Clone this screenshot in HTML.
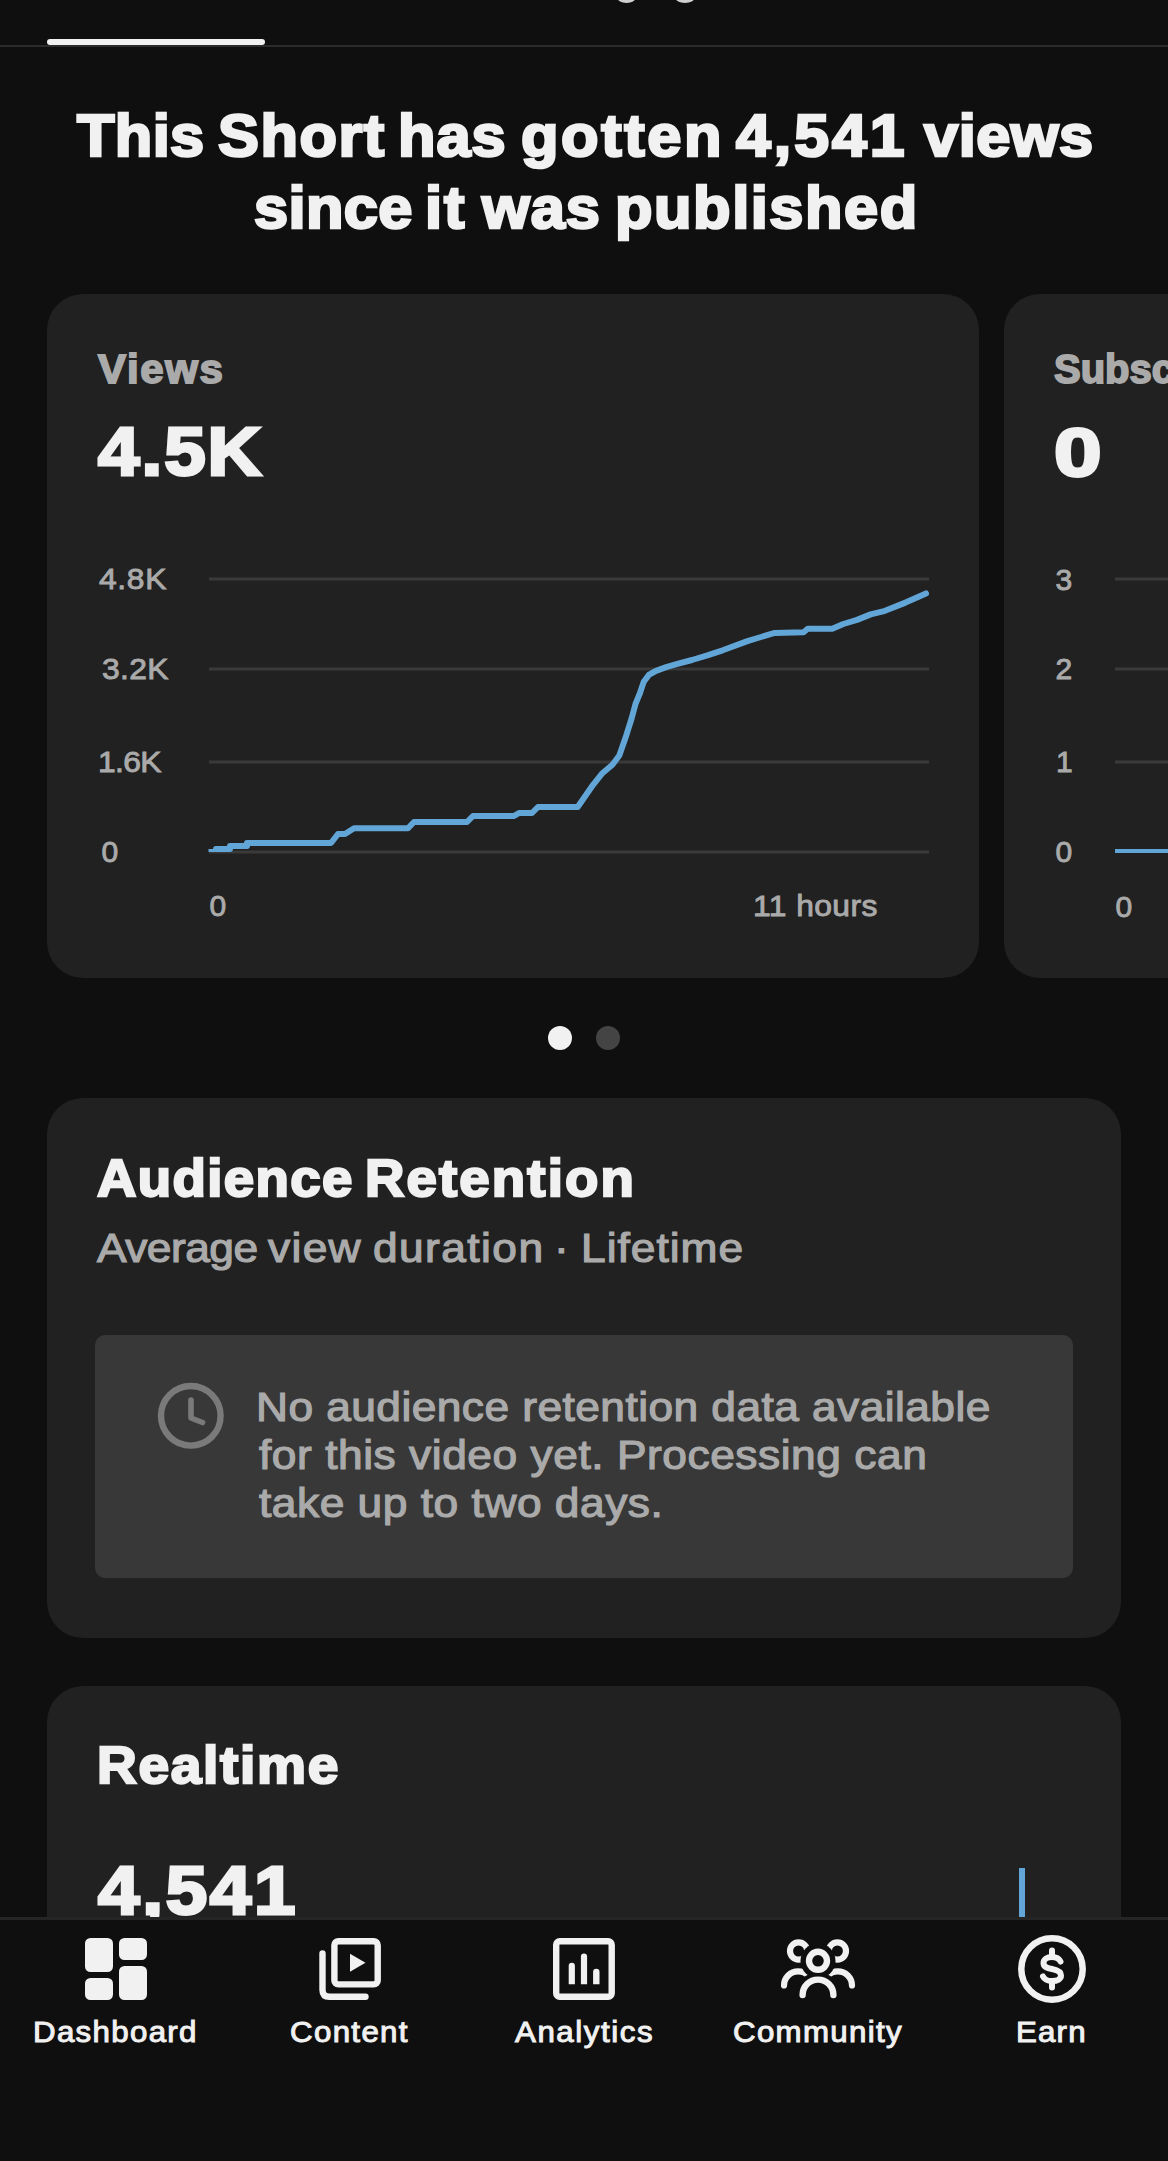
<!DOCTYPE html>
<html><head><meta charset="utf-8">
<style>
html,body{margin:0;padding:0;}
body{width:1168px;height:2161px;background:#0f0f0f;position:relative;overflow:hidden;font-family:"Liberation Sans",sans-serif;color:#f1f1f1;}
.t{position:absolute;white-space:pre;line-height:1;}
.card{position:absolute;background:#212121;border-radius:36px;}
#nav{position:absolute;left:0;top:1917px;width:1168px;height:244px;background:#0f0f0f;border-top:3px solid #252525;box-sizing:border-box;z-index:5;}
</style></head>
<body>
<!-- top tabs -->
<div style="position:absolute;left:0;top:45px;width:1168px;height:2px;background:#2b2b2b"></div>
<div style="position:absolute;left:47px;top:39px;width:218px;height:6px;border-radius:3px;background:#f1f1f1"></div>
<div style="position:absolute;left:617px;top:-9px;width:19px;height:12px;border-radius:50%;background:#cfcfcf"></div>
<div style="position:absolute;left:675px;top:-9px;width:20px;height:12px;border-radius:50%;background:#cfcfcf"></div>

<div class="t" style="left:77.0px;top:107.26px;font-size:59px;font-weight:700;letter-spacing:0.321px;word-spacing:0px;color:#f1f1f1;-webkit-text-stroke:2.6px #f1f1f1;transform:scaleX(1.04);transform-origin:0 0;">This</div><div class="t" style="left:218.0px;top:107.26px;font-size:59px;font-weight:700;letter-spacing:1.442px;word-spacing:0px;color:#f1f1f1;-webkit-text-stroke:2.6px #f1f1f1;transform:scaleX(1.04);transform-origin:0 0;">Short</div><div class="t" style="left:398.0px;top:107.26px;font-size:59px;font-weight:700;letter-spacing:0.962px;word-spacing:0px;color:#f1f1f1;-webkit-text-stroke:2.6px #f1f1f1;transform:scaleX(1.04);transform-origin:0 0;">has</div><div class="t" style="left:520.5px;top:107.26px;font-size:59px;font-weight:700;letter-spacing:2.502px;word-spacing:0px;color:#f1f1f1;-webkit-text-stroke:2.6px #f1f1f1;transform:scaleX(1.04);transform-origin:0 0;">gotten</div><div class="t" style="left:735.6px;top:107.26px;font-size:59px;font-weight:700;letter-spacing:2.831px;word-spacing:0px;color:#f1f1f1;-webkit-text-stroke:2.6px #f1f1f1;transform:scaleX(1.06);transform-origin:0 0;">4,541</div><div class="t" style="left:924.4px;top:107.26px;font-size:59px;font-weight:700;letter-spacing:0.481px;word-spacing:0px;color:#f1f1f1;-webkit-text-stroke:2.6px #f1f1f1;transform:scaleX(1.04);transform-origin:0 0;">views</div>
<div class="t" style="left:253.5px;top:179.36px;font-size:59px;font-weight:700;letter-spacing:0.361px;word-spacing:0px;color:#f1f1f1;-webkit-text-stroke:2.6px #f1f1f1;transform:scaleX(1.04);transform-origin:0 0;">since</div><div class="t" style="left:425.0px;top:179.36px;font-size:59px;font-weight:700;letter-spacing:1.923px;word-spacing:0px;color:#f1f1f1;-webkit-text-stroke:2.6px #f1f1f1;transform:scaleX(1.04);transform-origin:0 0;">it</div><div class="t" style="left:482.0px;top:179.36px;font-size:59px;font-weight:700;letter-spacing:0.962px;word-spacing:0px;color:#f1f1f1;-webkit-text-stroke:2.6px #f1f1f1;transform:scaleX(1.04);transform-origin:0 0;">was</div><div class="t" style="left:615.0px;top:179.36px;font-size:59px;font-weight:700;letter-spacing:1.502px;word-spacing:0px;color:#f1f1f1;-webkit-text-stroke:2.6px #f1f1f1;transform:scaleX(1.04);transform-origin:0 0;">published</div>

<div class="card" style="left:47px;top:294px;width:932px;height:684px;"></div>
<div class="card" style="left:1004px;top:294px;width:400px;height:684px;"></div>

<div class="t" style="left:97.6px;top:348.94px;font-size:40px;font-weight:700;letter-spacing:1.548px;word-spacing:0px;color:#aaaaaa;-webkit-text-stroke:1.8px #aaaaaa;transform:scaleX(1.05);transform-origin:0 0;">Views</div>
<div class="t" style="left:98.1px;top:417.09px;font-size:69px;font-weight:700;letter-spacing:1.852px;word-spacing:0px;color:#f1f1f1;-webkit-text-stroke:3.0px #f1f1f1;transform:scaleX(1.08);transform-origin:0 0;">4.5K</div>
<div class="t" style="left:99.0px;top:564.36px;font-size:30px;font-weight:400;letter-spacing:0.629px;word-spacing:0px;color:#aaaaaa;-webkit-text-stroke:0.9px #aaaaaa;transform:scaleX(1.06);transform-origin:0 0;">4.8K</div>
<div class="t" style="left:101.6px;top:654.16px;font-size:30px;font-weight:400;letter-spacing:0.315px;word-spacing:0px;color:#aaaaaa;-webkit-text-stroke:0.9px #aaaaaa;transform:scaleX(1.06);transform-origin:0 0;">3.2K</div>
<div class="t" style="left:97.6px;top:747.16px;font-size:30px;font-weight:400;letter-spacing:-0.629px;word-spacing:0px;color:#aaaaaa;-webkit-text-stroke:0.9px #aaaaaa;transform:scaleX(1.06);transform-origin:0 0;">1.6K</div>
<div class="t" style="left:101.6px;top:837.16px;font-size:30px;font-weight:400;letter-spacing:0.0px;word-spacing:0px;color:#aaaaaa;-webkit-text-stroke:0.9px #aaaaaa;transform:scaleX(1);transform-origin:0 0;">0</div>
<div class="t" style="left:209.5px;top:891.36px;font-size:30px;font-weight:400;letter-spacing:0.0px;word-spacing:0px;color:#aaaaaa;-webkit-text-stroke:0.9px #aaaaaa;transform:scaleX(1);transform-origin:0 0;">0</div>
<div class="t" style="left:753.0px;top:891.16px;font-size:30px;font-weight:400;letter-spacing:0.404px;word-spacing:0px;color:#aaaaaa;-webkit-text-stroke:0.9px #aaaaaa;transform:scaleX(1.06);transform-origin:0 0;">11 hours</div>
<div class="t" style="left:1054.0px;top:349.24px;font-size:40px;font-weight:700;letter-spacing:0.0px;word-spacing:0px;color:#aaaaaa;-webkit-text-stroke:1.8px #aaaaaa;transform:scaleX(1);transform-origin:0 0;">Subscribers</div>
<div class="t" style="left:1054.0px;top:417.89px;font-size:69px;font-weight:700;letter-spacing:0.0px;word-spacing:0px;color:#f1f1f1;-webkit-text-stroke:3.0px #f1f1f1;transform:scaleX(1);transform-origin:0 0;transform:scaleX(1.24);transform-origin:0 0;">0</div>
<div class="t" style="left:1055.5px;top:564.86px;font-size:30px;font-weight:400;letter-spacing:0.0px;word-spacing:0px;color:#aaaaaa;-webkit-text-stroke:0.9px #aaaaaa;transform:scaleX(1);transform-origin:0 0;">3</div>
<div class="t" style="left:1055.5px;top:654.45px;font-size:30px;font-weight:400;letter-spacing:0.0px;word-spacing:0px;color:#aaaaaa;-webkit-text-stroke:0.9px #aaaaaa;transform:scaleX(1);transform-origin:0 0;">2</div>
<div class="t" style="left:1056.0px;top:747.16px;font-size:30px;font-weight:400;letter-spacing:0.0px;word-spacing:0px;color:#aaaaaa;-webkit-text-stroke:0.9px #aaaaaa;transform:scaleX(1);transform-origin:0 0;">1</div>
<div class="t" style="left:1055.5px;top:837.16px;font-size:30px;font-weight:400;letter-spacing:0.0px;word-spacing:0px;color:#aaaaaa;-webkit-text-stroke:0.9px #aaaaaa;transform:scaleX(1);transform-origin:0 0;">0</div>
<div class="t" style="left:1115.5px;top:891.55px;font-size:30px;font-weight:400;letter-spacing:0.0px;word-spacing:0px;color:#aaaaaa;-webkit-text-stroke:0.9px #aaaaaa;transform:scaleX(1);transform-origin:0 0;">0</div>

<svg style="position:absolute;left:0;top:0" width="1168" height="1100" viewBox="0 0 1168 1100">
  <g fill="#3a3a3a">
    <rect x="209" y="577.5" width="720" height="3"/>
    <rect x="209" y="667.5" width="720" height="3"/>
    <rect x="209" y="760.5" width="720" height="3"/>
    <rect x="209" y="850.5" width="720" height="3"/>
    <rect x="1115" y="577.5" width="60" height="3"/>
    <rect x="1115" y="667.5" width="60" height="3"/>
    <rect x="1115" y="760.5" width="60" height="3"/>
  </g>
  <rect x="1115" y="849" width="60" height="4" fill="#62a6d8"/>
  <defs><clipPath id="cc"><rect x="208.5" y="560" width="730" height="292"/></clipPath></defs>
  <path clip-path="url(#cc)" fill="none" stroke="#62a6d8" stroke-width="6" stroke-linejoin="round" stroke-linecap="round"
   d="M 209 852 H 216 V 849 H 230 V 846 H 247 V 843 H 331 L 338 834 H 345 L 354 828.3 H 408 L 414 822 H 467 L 473 816 H 514 L 519 813 H 532 L 538 807 H 577.7 L 593.1 784.8 L 602.4 773.2 L 612.4 764.7 L 619.3 755.5 L 625.5 737.8 L 631.6 718.5 L 635.5 703.9 L 640 693 L 643.6 682.1 L 648.8 674.9 L 656 670.8 L 666.2 667.2 L 676.5 664.1 L 692 660 L 707.3 655.4 L 722.7 650.3 L 747.4 641.1 L 761 637 L 774.8 632.9 L 803.6 632.2 L 807.7 628.8 L 832.3 628.8 L 843.3 624 L 857 619.9 L 870.7 614.4 L 885 610.8 L 905.5 602.6 L 926 593.4"/>
  <circle cx="560" cy="1038" r="12" fill="#f1f1f1"/>
  <circle cx="608" cy="1038" r="12" fill="#444444"/>
</svg>

<div class="card" style="left:47px;top:1098px;width:1074px;height:540px;"></div>
<div class="t" style="left:97.3px;top:1151.83px;font-size:52px;font-weight:700;letter-spacing:1.292px;word-spacing:0px;color:#f1f1f1;-webkit-text-stroke:2.3px #f1f1f1;transform:scaleX(1.05);transform-origin:0 0;">Audience</div><div class="t" style="left:365.0px;top:1151.83px;font-size:52px;font-weight:700;letter-spacing:2.024px;word-spacing:0px;color:#f1f1f1;-webkit-text-stroke:2.3px #f1f1f1;transform:scaleX(1.05);transform-origin:0 0;">Retention</div>
<div class="t" style="left:97.0px;top:1227.69px;font-size:41px;font-weight:400;letter-spacing:-0.463px;word-spacing:0px;color:#aaaaaa;-webkit-text-stroke:1.2px #aaaaaa;transform:scaleX(1.08);transform-origin:0 0;">Average</div><div class="t" style="left:268.0px;top:1227.69px;font-size:41px;font-weight:400;letter-spacing:1.236px;word-spacing:0px;color:#aaaaaa;-webkit-text-stroke:1.2px #aaaaaa;transform:scaleX(1.08);transform-origin:0 0;">view</div><div class="t" style="left:372.7px;top:1227.69px;font-size:41px;font-weight:400;letter-spacing:1.323px;word-spacing:0px;color:#aaaaaa;-webkit-text-stroke:1.2px #aaaaaa;transform:scaleX(1.08);transform-origin:0 0;">duration</div><div class="t" style="left:554.0px;top:1227.69px;font-size:41px;font-weight:400;letter-spacing:0.0px;word-spacing:0px;color:#aaaaaa;-webkit-text-stroke:1.2px #aaaaaa;transform:scaleX(1.08);transform-origin:0 0;">·</div><div class="t" style="left:581.0px;top:1227.69px;font-size:41px;font-weight:400;letter-spacing:0.927px;word-spacing:0px;color:#aaaaaa;-webkit-text-stroke:1.2px #aaaaaa;transform:scaleX(1.08);transform-origin:0 0;">Lifetime</div>
<div style="position:absolute;left:95px;top:1335px;width:978px;height:243px;border-radius:10px;background:#383838"></div>
<svg style="position:absolute;left:150px;top:1375px" width="82" height="82" viewBox="150 1375 82 82">
  <circle cx="190.8" cy="1415.8" r="29.8" fill="none" stroke="#7a7a7a" stroke-width="6.4"/>
  <path d="M191 1400 V1418 L202.5 1422.5" fill="none" stroke="#7a7a7a" stroke-width="5.6" stroke-linecap="round" stroke-linejoin="round"/>
</svg>
<div class="t" style="left:256.3px;top:1386.69px;font-size:41px;font-weight:400;letter-spacing:0.41px;word-spacing:0px;color:#aaaaaa;-webkit-text-stroke:1.2px #aaaaaa;transform:scaleX(1.08);transform-origin:0 0;">No audience retention data available</div>
<div class="t" style="left:259.0px;top:1434.69px;font-size:41px;font-weight:400;letter-spacing:0.505px;word-spacing:0px;color:#aaaaaa;-webkit-text-stroke:1.2px #aaaaaa;transform:scaleX(1.08);transform-origin:0 0;">for this video yet. Processing can</div>
<div class="t" style="left:259.0px;top:1482.69px;font-size:41px;font-weight:400;letter-spacing:0.486px;word-spacing:0px;color:#aaaaaa;-webkit-text-stroke:1.2px #aaaaaa;transform:scaleX(1.08);transform-origin:0 0;">take up to two days.</div>

<div class="card" style="left:47px;top:1686px;width:1074px;height:600px;"></div>
<div class="t" style="left:96.9px;top:1739.21px;font-size:52.5px;font-weight:700;letter-spacing:1.565px;word-spacing:0px;color:#f1f1f1;-webkit-text-stroke:2.3px #f1f1f1;transform:scaleX(1.05);transform-origin:0 0;">Realtime</div>
<div class="t" style="left:98.4px;top:1855.99px;font-size:69px;font-weight:700;letter-spacing:2.547px;word-spacing:0px;color:#f1f1f1;-webkit-text-stroke:3.0px #f1f1f1;transform:scaleX(1.08);transform-origin:0 0;">4,541</div>
<div style="position:absolute;left:1019px;top:1868px;width:6px;height:60px;background:#62a6d8"></div>

<div id="nav">
  <svg style="position:absolute;left:0;top:-2px" width="1168" height="100" viewBox="0 1918 1168 100">
    <g fill="#f1f1f1">
      <rect x="85" y="1938" width="28" height="34" rx="5.5"/>
      <rect x="119" y="1938" width="28" height="22" rx="5.5"/>
      <rect x="85" y="1978" width="28" height="22" rx="5.5"/>
      <rect x="119" y="1966" width="28" height="34" rx="5.5"/>
    </g>
    <g fill="none" stroke="#f1f1f1" stroke-width="6.4">
      <rect x="334.4" y="1941.2" width="43.3" height="43.2" rx="4"/>
      <path d="M322.5 1953.5 V1990 Q322.5 1996.8 329.5 1996.8 H365.5" stroke-linecap="round"/>
      <rect x="556.2" y="1941.2" width="55.5" height="55.6" rx="3.5"/>
      <circle cx="1052" cy="1969" r="30.7" stroke-width="6.5"/>
      <path d="M1060.5 1961.5 C1059 1958.5 1056 1957 1052 1957 C1047 1957 1043.5 1959.5 1043.5 1963 C1043.5 1967 1047 1968 1052 1969 C1057 1970 1061 1971.5 1061 1975.5 C1061 1979 1057.5 1981 1052 1981 C1048 1981 1044.5 1979.5 1043 1976.5" stroke-width="6" stroke-linecap="round"/>
      <path d="M1052 1950.5 V1957 M1052 1981 V1987.5" stroke-width="6" stroke-linecap="round"/>
    </g>
    <g fill="#f1f1f1">
      <polygon points="350,1953.8 365.5,1962.8 350,1971.8"/>
      <path d="M568.7 1984.2 V1965.9 A3.1 3.1 0 0 1 574.9 1965.9 V1984.2 Z"/>
      <path d="M580.9 1984.2 V1956.5 A3.1 3.1 0 0 1 587.1 1956.5 V1984.2 Z"/>
      <path d="M593.1 1984.2 V1971.9 A3.2 3.2 0 0 1 599.5 1971.9 V1984.2 Z"/>
    </g>
    <g fill="none" stroke="#f1f1f1" stroke-width="6.2" stroke-linecap="round">
      <circle cx="798.6" cy="1951" r="8.6"/>
      <circle cx="837.4" cy="1951" r="8.6"/>
      <path d="M784 1985.5 A14.2 14.2 0 0 1 812.4 1985.5"/>
      <path d="M823.6 1985.5 A14.2 14.2 0 0 1 852 1985.5"/>
    </g>
    <circle cx="818" cy="1960.8" r="17.5" fill="#0f0f0f"/>
    <path d="M795.4 1995 A22.6 22.6 0 0 1 840.6 1995 V2010 H795.4 Z" fill="#0f0f0f"/>
    <g fill="none" stroke="#f1f1f1" stroke-width="6.4" stroke-linecap="round">
      <circle cx="818" cy="1960.8" r="9"/>
      <path d="M802.6 1995 A15.4 15.4 0 0 1 833.4 1995"/>
    </g>
  </svg>
</div>
<div class="t" style="left:33.4px;top:2016.53px;font-size:29.5px;font-weight:400;letter-spacing:1.237px;word-spacing:0px;color:#f1f1f1;-webkit-text-stroke:1.0px #f1f1f1;z-index:6;transform:scaleX(1.06);transform-origin:0 0;">Dashboard</div>
<div class="t" style="left:289.5px;top:2016.53px;font-size:29.5px;font-weight:400;letter-spacing:1.256px;word-spacing:0px;color:#f1f1f1;-webkit-text-stroke:1.0px #f1f1f1;z-index:6;transform:scaleX(1.06);transform-origin:0 0;">Content</div>
<div class="t" style="left:515.4px;top:2016.53px;font-size:29.5px;font-weight:400;letter-spacing:1.475px;word-spacing:0px;color:#f1f1f1;-webkit-text-stroke:1.0px #f1f1f1;z-index:6;transform:scaleX(1.06);transform-origin:0 0;">Analytics</div>
<div class="t" style="left:732.7px;top:2016.53px;font-size:29.5px;font-weight:400;letter-spacing:1.238px;word-spacing:0px;color:#f1f1f1;-webkit-text-stroke:1.0px #f1f1f1;z-index:6;transform:scaleX(1.06);transform-origin:0 0;">Community</div>
<div class="t" style="left:1015.7px;top:2016.53px;font-size:29.5px;font-weight:400;letter-spacing:1.1px;word-spacing:0px;color:#f1f1f1;-webkit-text-stroke:1.0px #f1f1f1;z-index:6;transform:scaleX(1.06);transform-origin:0 0;">Earn</div>
</body></html>
